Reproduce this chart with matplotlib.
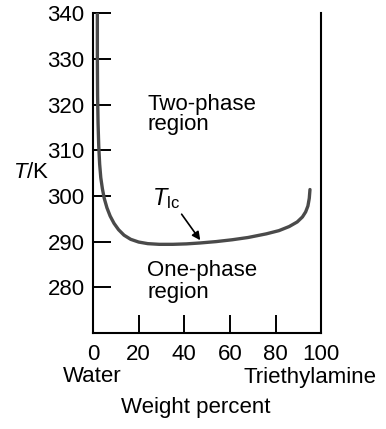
import matplotlib.pyplot as plt

# curve: weight percent triethylamine vs T/K
wt_pct = [1.9, 1.9, 2.0, 2.2, 2.5, 2.9, 3.4, 4.1, 4.9, 6.1, 7.5, 9.2, 11.2,
          13.6, 16.5, 20.0, 24.0, 29.0, 35.0, 41.0, 47.0, 54.0, 61.0, 68.0,
          76.0, 81.5, 86.0, 89.5, 91.8, 93.2, 94.2, 94.8, 95.1]
temp_K = [340, 330, 322, 316, 311, 307, 304, 301.6, 299.5, 297.4, 295.6, 294.0, 292.6,
          291.4, 290.5, 289.9, 289.55, 289.4, 289.4, 289.5, 289.7, 290.0, 290.4, 290.9,
          291.7, 292.4, 293.3, 294.3, 295.4, 296.5, 297.8, 299.5, 301.4]

x_ticks = [0, 20, 40, 60, 80, 100]
y_ticks = [280, 290, 300, 310, 320, 330, 340]

plt.rcParams['font.family'] = ['Liberation Sans', 'DejaVu Sans']
plt.rcParams['mathtext.fontset'] = 'custom'
plt.rcParams['mathtext.rm'] = 'Liberation Sans'
plt.rcParams['mathtext.it'] = 'Liberation Sans:italic'

fs = 16

fig = plt.figure(figsize=(3.86, 4.29), dpi=100)
ax = fig.add_axes([0.241, 0.224, 0.591, 0.745])

ax.plot(wt_pct, temp_K, color='#4a4a4a', lw=2.4, solid_capstyle='round',
        solid_joinstyle='round')

ax.set_xlim(0, 100)
ax.set_ylim(270, 340)
ax.set_xticks(x_ticks)
ax.set_yticks(y_ticks)
ax.spines['top'].set_visible(False)
for s in ['left', 'right', 'bottom']:
    ax.spines[s].set_linewidth(1.5)
ax.tick_params(direction='in', length=13, width=1.4, labelsize=fs)
ax.tick_params(axis='x', pad=8)
ax.tick_params(axis='y', pad=6)

ax.text(23.7, 317.8, "Two-phase\nregion", fontsize=fs, va='center', ha='left', linespacing=0.95)
ax.text(23.7, 281.2, "One-phase\nregion", fontsize=fs, va='center', ha='left', linespacing=1.05)

ax.annotate(r"$T_{\rm lc}$", xy=(47, 290.3), xytext=(25.7, 297.9),
            fontsize=fs + 1, va='baseline', ha='left',
            arrowprops=dict(arrowstyle='-|>', color='black', lw=1.2,
                            shrinkA=0, shrinkB=0, mutation_scale=12,
                            relpos=(1.0, 0.0)))

fig.text(31 / 386, 1 - 173 / 429, r"$T$/K", fontsize=fs, ha='center', va='center')
fig.text(92 / 386, 1 - 377 / 429, "Water", fontsize=fs, ha='center', va='center')
fig.text(310 / 386, 1 - 377 / 429, "Triethylamine", fontsize=fs, ha='center', va='center')
fig.text(196 / 386, 1 - 408 / 429, "Weight percent", fontsize=fs, ha='center', va='center')

fig.savefig("out.png", dpi=100)
